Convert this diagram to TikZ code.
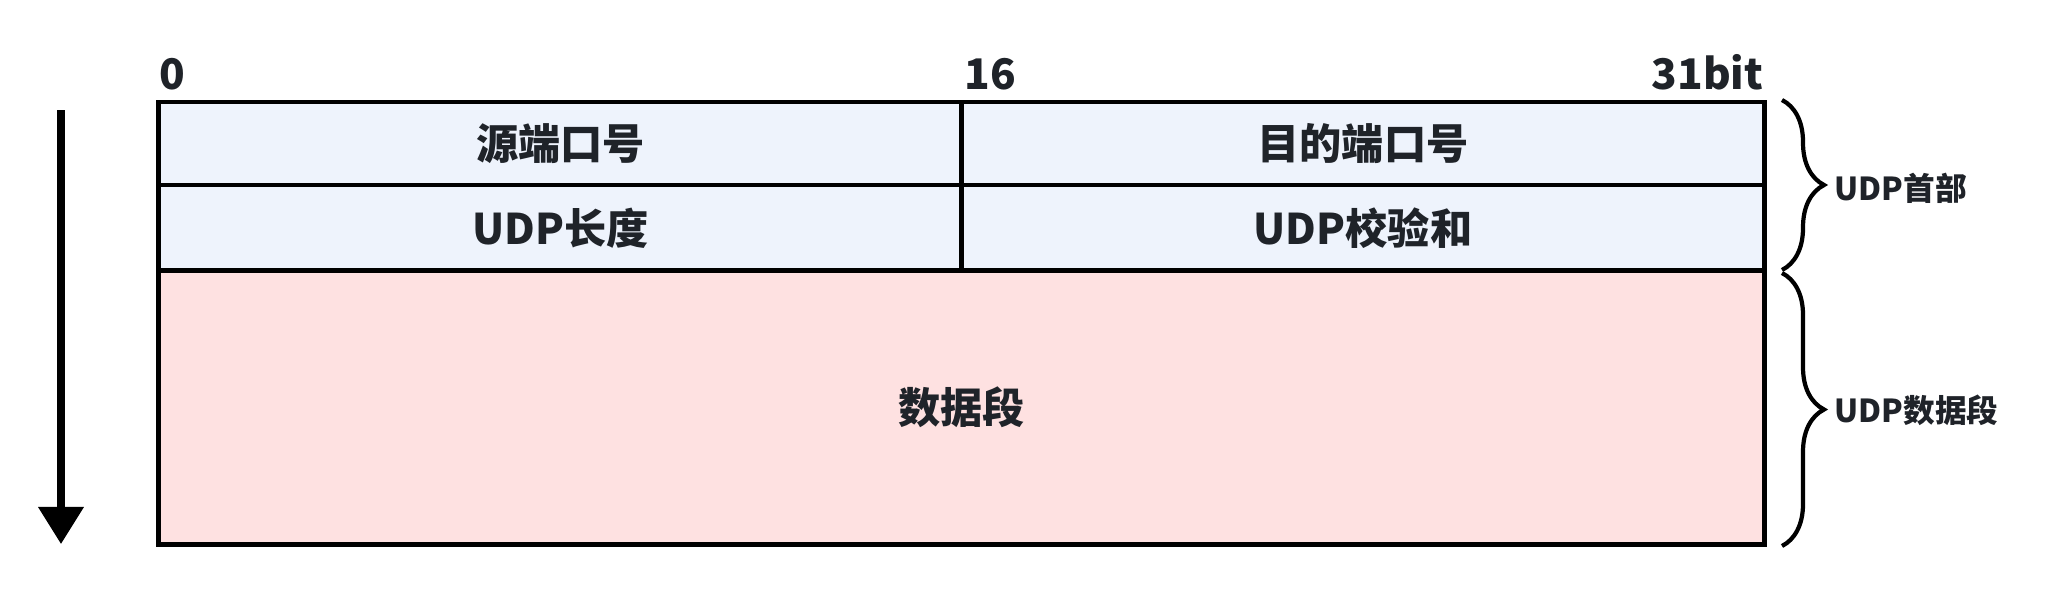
\documentclass[tikz,border=0pt]{standalone}
\usepackage{fontspec}
\setmainfont{Noto Sans CJK SC}
\usetikzlibrary{arrows.meta,decorations.pathreplacing}
\definecolor{ink}{HTML}{1F2329}
\definecolor{hdrfill}{HTML}{EEF3FC}
\definecolor{datafill}{HTML}{FEE1E1}

\begin{document}
\begin{tikzpicture}[x=0.01cm,y=-0.01cm]
        \tikzstyle{cell} = [draw=black,line width=1.4pt,fill=hdrfill,inner sep=0pt,
          text=ink,font=\fontsize{12pt}{14pt}\selectfont\bfseries]
        \tikzstyle{bitlabel} = [inner sep=0pt,text=ink,font=\fontsize{12pt}{14pt}\selectfont\bfseries]
        \tikzstyle{side} = [inner sep=0pt,anchor=west,text=ink,font=\fontsize{9pt}{11pt}\selectfont\bfseries]
        \tikzstyle{curly} = [decorate,decoration={brace,amplitude=0.42cm},line width=1.2pt]
        \useasboundingbox (0,0) rectangle (2048,615);

        \foreach \l/\x/\y/\h/\t in {src/560.5/143.5/0.83cm/源端口号, dst/1363/143.5/0.83cm/目的端口号,
          len/560.5/228/0.86cm/UDP长度, sum/1363/228/0.86cm/UDP校验和} {
          \node[cell,minimum width=8.03cm,minimum height=\h] (\l) at (\x,\y) {\t};
        }
        \node[cell,fill=datafill,minimum width=16.05cm,minimum height=2.73cm] (data) at (961.5,407.5) {数据段};

        \foreach \l/\x/\a/\t in {b0/159/base west/0, b16/964/base west/16, b31/1764/base east/31bit} {
          \node[bitlabel,anchor=\a] (\l) at (\x,90) {\t};
        }

        % direction of transmission
        \coordinate (atop) at (61,110);
        \coordinate (abot) at (61,544);
        \draw[line width=2pt,-{Triangle[width=0.44cm,length=0.37cm]}] (atop) -- (abot);

        \coordinate (h1) at (1782,100);
        \coordinate (h2) at (1782,270);
        \coordinate (d1) at (1782,273);
        \coordinate (d2) at (1782,546);
        \draw[curly] (h1) -- (h2);
        \draw[curly] (d1) -- (d2);
        \node[side] (hdr) at (1834,188) {UDP首部};
        \node[side] (seg) at (1834,410) {UDP数据段};
      \end{tikzpicture}
\end{document}
